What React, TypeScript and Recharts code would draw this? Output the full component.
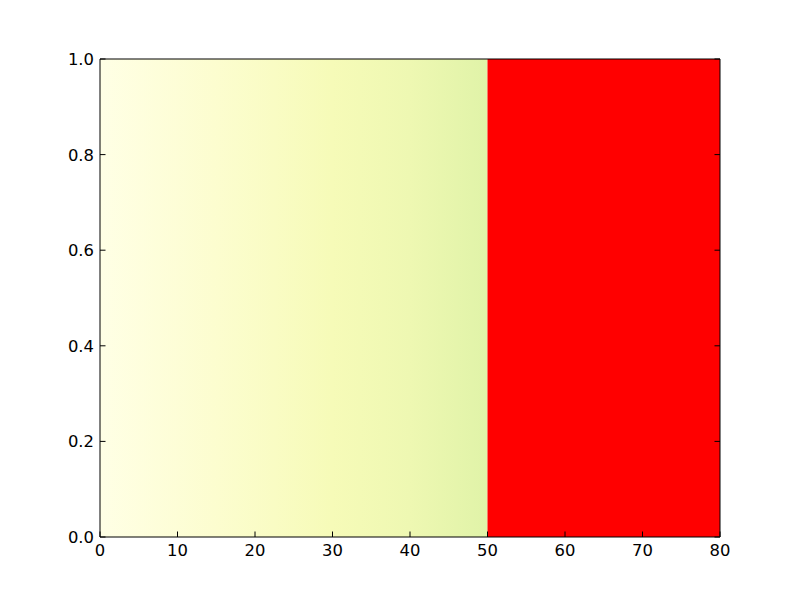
import React from "react";
import { ComposedChart, XAxis, YAxis, ReferenceArea } from "recharts";

const xTicks = [0, 10, 20, 30, 40, 50, 60, 70, 80];
const yTicks = [0, 0.2, 0.4, 0.6, 0.8, 1.0];
const bandStarts = [0, 50];
const bandEnds = [50, 80];
const bandFills = ["url(#ylgn)", "#ff0000"];
const gradientStops = [
  { offset: "0%", color: "#ffffe5" },
  { offset: "30%", color: "#fcfdcf" },
  { offset: "60%", color: "#f6fbb8" },
  { offset: "80%", color: "#eef8b2" },
  { offset: "100%", color: "#e0f3a8" },
];

const FONT = "DejaVu Sans, sans-serif";
const FS = 16.4;
const TL = 5.5;
const XM = 7;
const YM = 6;

const BottomTick = (props: any) => {
  const { x, y, payload } = props;
  const axisY = y - XM;
  return (
    <g>
      <line x1={x} x2={x} y1={axisY} y2={axisY - TL} stroke="#000" strokeWidth={1} />
      <text x={x} y={y} dy="0.72em" textAnchor="middle" fontFamily={FONT} fontSize={FS} fill="#000">
        {payload.value}
      </text>
    </g>
  );
};

const TopTick = (props: any) => {
  const { x, y } = props;
  const axisY = y + XM;
  return <line x1={x} x2={x} y1={axisY} y2={axisY + TL} stroke="#000" strokeWidth={1} />;
};

const LeftTick = (props: any) => {
  const { x, y, payload } = props;
  const axisX = x + YM;
  return (
    <g>
      <line x1={axisX} x2={axisX + TL} y1={y} y2={y} stroke="#000" strokeWidth={1} />
      <text x={x} y={y} dy="0.36em" textAnchor="end" fontFamily={FONT} fontSize={FS} fill="#000">
        {Number(payload.value).toFixed(1)}
      </text>
    </g>
  );
};

const RightTick = (props: any) => {
  const { x, y } = props;
  const axisX = x - YM;
  return <line x1={axisX} x2={axisX - TL} y1={y} y2={y} stroke="#000" strokeWidth={1} />;
};

export default function App() {
  return (
    <div style={{ position: "absolute", left: 0, top: 0, width: 800, height: 597, background: "#fff" }}>
      <ComposedChart width={800} height={597} margin={{ top: 59, right: 0, bottom: 0, left: 0 }} data={[]}>
        <defs>
          <linearGradient id="ylgn" x1="0" y1="0" x2="1" y2="0">
            {gradientStops.map((s) => (
              <stop key={s.offset} offset={s.offset} stopColor={s.color} />
            ))}
          </linearGradient>
        </defs>
        <XAxis
          xAxisId="b"
          type="number"
          dataKey="x"
          domain={[0, 80]}
          ticks={xTicks}
          orientation="bottom"
          height={60}
          tickSize={0}
          tickMargin={XM}
          axisLine={false}
          tick={<BottomTick />}
          allowDataOverflow
        />
        <XAxis
          xAxisId="t"
          type="number"
          dataKey="x"
          domain={[0, 80]}
          ticks={xTicks}
          orientation="top"
          height={0}
          tickSize={0}
          tickMargin={XM}
          axisLine={false}
          tick={<TopTick />}
          allowDataOverflow
        />
        <YAxis
          yAxisId="l"
          type="number"
          domain={[0, 1]}
          ticks={yTicks}
          orientation="left"
          width={100}
          tickSize={0}
          tickMargin={YM}
          axisLine={false}
          tick={<LeftTick />}
          allowDataOverflow
        />
        <YAxis
          yAxisId="r"
          type="number"
          domain={[0, 1]}
          ticks={yTicks}
          orientation="right"
          width={80}
          tickSize={0}
          tickMargin={YM}
          axisLine={false}
          tick={<RightTick />}
          allowDataOverflow
        />
        {bandStarts.map((s, i) => (
          <ReferenceArea
            key={i}
            xAxisId="b"
            yAxisId="l"
            x1={s}
            x2={bandEnds[i]}
            y1={0}
            y2={1}
            fill={bandFills[i]}
            fillOpacity={1}
            stroke="none"
            ifOverflow="visible"
          />
        ))}
        <ReferenceArea
          xAxisId="b"
          yAxisId="l"
          x1={0}
          x2={80}
          y1={0}
          y2={1}
          fill="none"
          stroke="#000"
          strokeWidth={1}
          ifOverflow="visible"
        />
      </ComposedChart>
    </div>
  );
}
